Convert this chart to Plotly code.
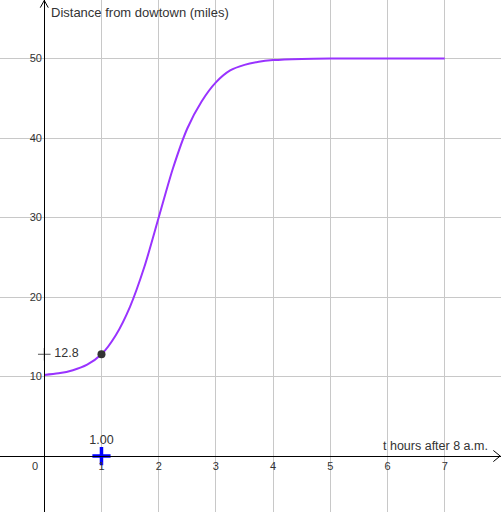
import plotly.graph_objs as go

# values
t_hours = [0, 0.25, 0.5, 0.75, 1, 1.25, 1.5, 1.75, 2, 2.25, 2.5, 2.75, 3,
           3.25, 3.5, 3.75, 4, 4.5, 5, 5.5, 6, 6.5, 7]
distance = [10.2, 10.4, 10.8, 11.5, 12.8, 15.2, 18.8, 23.8, 30, 36.2, 41.2, 44.6, 47.0,
            48.5, 49.2, 49.6, 49.8, 49.95, 50, 50, 50, 50, 50]
x_ticks = [1, 2, 3, 4, 5, 6, 7]
y_ticks = [10, 20, 30, 40, 50]
point_t = 1
point_d = 12.8
slider_t = 1

X_RANGE = [-0.774, 7.984]
Y_RANGE = [-7.04, 57.36]

fig = go.Figure()
fig.add_trace(go.Scatter(x=t_hours, y=distance, mode='lines', name='f',
                         line=dict(color='#9933ff', width=2, shape='spline', smoothing=0.8)))
# point on the curve
fig.add_trace(go.Scatter(x=[point_t], y=[point_d], mode='markers', name='A',
                         marker=dict(color='#333333', size=8)))
# its projection on the y axis
fig.add_trace(go.Scatter(x=[0], y=[point_d], mode='markers+text', name='B',
                         marker=dict(symbol='cross-thin', color='#555555', size=9,
                                     line=dict(color='#555555', width=1)),
                         text=[' 12.8'], textposition='middle right',
                         textfont=dict(family='Liberation Sans', size=12.5, color='#333333')))
# t slider point on the x axis
fig.add_trace(go.Scatter(x=[slider_t], y=[0], mode='markers+text', name='t',
                         marker=dict(symbol='cross-thin', color='#0000ff', size=13,
                                     line=dict(color='#0000ff', width=3.5)),
                         text=['%.2f' % slider_t], textposition='top center',
                         textfont=dict(family='Liberation Sans', size=12.5, color='#333333')))

fig.update_layout(
    width=501, height=512,
    margin=dict(l=0, r=0, t=0, b=0, pad=0),
    plot_bgcolor='white',
    paper_bgcolor='white',
    showlegend=False,
    font=dict(family='Liberation Sans', size=11, color='#333333'),
    xaxis=dict(range=X_RANGE, tickvals=x_ticks, showgrid=True, gridcolor='#c8c8c8', gridwidth=1,
               zeroline=False, showline=True, linecolor='black', linewidth=1.3,
               anchor='free', position=(0 - Y_RANGE[0]) / (Y_RANGE[1] - Y_RANGE[0]),
               ticks='', ticklen=0, automargin=False, fixedrange=True),
    yaxis=dict(range=Y_RANGE, tickvals=y_ticks, showgrid=True, gridcolor='#c8c8c8', gridwidth=1,
               zeroline=False, showline=True, linecolor='black', linewidth=1.3,
               anchor='free', position=(0 - X_RANGE[0]) / (X_RANGE[1] - X_RANGE[0]),
               ticks='', ticklen=0, automargin=False, fixedrange=True),
)

fig.add_annotation(x=0.08, y=55.8, text='Distance from dowtown (miles)', showarrow=False,
                   xanchor='left', font=dict(size=13, color='#333333'))
fig.add_annotation(x=7.79, y=1.3, text='t hours after 8 a.m.', showarrow=False,
                   xanchor='right', font=dict(size=12.5, color='#333333'))
fig.add_annotation(x=-0.16, y=-1.3, text='0', showarrow=False, font=dict(size=11, color='#333333'))

# open arrow heads at the axis ends
fig.add_shape(type='path', path='M -0.07 56.4 L 0 57.3 L 0.07 56.4', xref='x', yref='y',
              line=dict(color='black', width=1))
fig.add_shape(type='path', path='M 7.85 0.7 L 7.97 0 L 7.85 -0.7', xref='x', yref='y',
              line=dict(color='black', width=1))

fig.write_html("out.html", config={'displayModeBar': False},
               post_script="document.body.style.margin='0';")
